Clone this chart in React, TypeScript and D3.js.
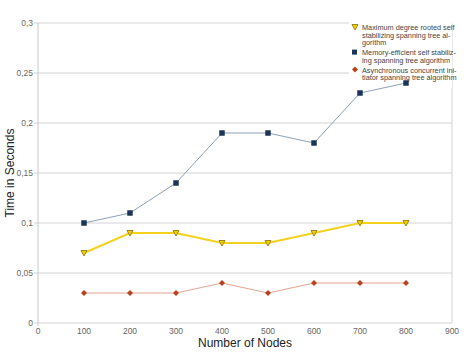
import React from "react";
import * as d3 from "d3";

const nodes = [100, 200, 300, 400, 500, 600, 700, 800];
const maxDegree = [0.07, 0.09, 0.09, 0.08, 0.08, 0.09, 0.1, 0.1];
const memoryEfficient = [0.1, 0.11, 0.14, 0.19, 0.19, 0.18, 0.23, 0.24];
const asyncConcurrent = [0.03, 0.03, 0.03, 0.04, 0.03, 0.04, 0.04, 0.04];
const xTicks = [0, 100, 200, 300, 400, 500, 600, 700, 800, 900];
const yTicks = [0, 0.05, 0.1, 0.15, 0.2, 0.25, 0.3];
const legendLines = [
  ["Maximum degree rooted self", "stabilizing spanning tree al-", "gorithm"],
  ["Memory-efficient self stabiliz-", "ing spanning tree algorithm"],
  ["Asynchronous concurrent ini-", "tiator spanning tree algorithm"],
];

const W = 474, H = 355;
const L = 38, R = 452, T = 23, B = 323;
const font = "'Liberation Sans', Arial, sans-serif";

export default function App() {
  const x = d3.scaleLinear().domain([0, 900]).range([L, R]);
  const y = d3.scaleLinear().domain([0, 0.3]).range([B, T]);
  const line = d3.line<number>().x((_, i) => x(nodes[i])).y((d) => y(d));
  const fmt = (v: number) => String(v).replace(".", ",");

  const tri = (cx: number, cy: number) =>
    `M${cx - 3},${cy - 2.5} L${cx + 3},${cy - 2.5} L${cx},${cy + 3} Z`;
  const diamond = (cx: number, cy: number) =>
    `M${cx},${cy - 3} L${cx + 3},${cy} L${cx},${cy + 3} L${cx - 3},${cy} Z`;

  let ly = 30;
  const legendY: number[][] = legendLines.map((g) => {
    const arr = g.map((_, i) => ly + i * 7.7);
    ly += g.length * 7.7 + 2;
    return arr;
  });

  return (
    <svg width={W} height={H} style={{ position: "absolute", left: 0, top: 0, background: "#fff" }}>
      <rect x={0} y={0} width={W} height={H} fill="#fff" />
      {yTicks.map((t) => (
        <g key={t}>
          <line x1={L - 4} x2={R} y1={y(t)} y2={y(t)} stroke="#d4d4d4" strokeWidth={1} />
          <text x={L - 5} y={y(t) + 3} textAnchor="end" fontSize={8.5} fill="#666" fontFamily={font}>{fmt(t)}</text>
        </g>
      ))}
      <line x1={L} x2={L} y1={T} y2={B + 3} stroke="#c8c8c8" />
      <line x1={R} x2={R} y1={T} y2={B} stroke="#d4d4d4" />
      {xTicks.map((t) => (
        <text key={t} x={x(t)} y={B + 11} textAnchor="middle" fontSize={8.5} fill="#666" fontFamily={font}>{t}</text>
      ))}
      <text x={245} y={347} textAnchor="middle" fontSize={12} fill="#222" fontFamily={font}>Number of Nodes</text>
      <text transform={`translate(14,${(T + B) / 2}) rotate(-90)`} textAnchor="middle" fontSize={12} fill="#222" fontFamily={font}>Time in Seconds</text>

      {/* legend */}
      <rect x={349} y={16} width={103} height={72} fill="#fff" />
      {legendLines.map((g, gi) => (
        <g key={gi}>
          {gi === 0 && <path d={tri(355, legendY[gi][0] - 3)} fill="#f0d000" stroke="#8a7000" strokeWidth={0.8} />}
          {gi === 1 && <rect x={352} y={legendY[gi][0] - 5.5} width={5} height={5} fill="#1c3557" />}
          {gi === 2 && <path d={diamond(355, legendY[gi][0] - 3)} fill="#b8401e" />}
          {g.map((s, si) => (
            <text key={si} x={362} y={legendY[gi][si]} fontSize={7.3} fill="#444" fontFamily={font}>{s}</text>
          ))}
        </g>
      ))}

      <path d={line(memoryEfficient) || ""} fill="none" stroke="#8ea0b4" strokeWidth={1} />
      <path d={line(maxDegree) || ""} fill="none" stroke="#f2d21c" strokeWidth={2} />
      <path d={line(asyncConcurrent) || ""} fill="none" stroke="#e4a590" strokeWidth={1} />
      {memoryEfficient.map((v, i) => (
        <rect key={"m" + i} x={x(nodes[i]) - 2.75} y={y(v) - 2.75} width={5.5} height={5.5} fill="#1c3557" />
      ))}
      {maxDegree.map((v, i) => (
        <path key={"d" + i} d={tri(x(nodes[i]), y(v))} fill="#f0d000" stroke="#8a7000" strokeWidth={0.8} />
      ))}
      {asyncConcurrent.map((v, i) => (
        <path key={"a" + i} d={diamond(x(nodes[i]), y(v))} fill="#b8401e" />
      ))}
    </svg>
  );
}
